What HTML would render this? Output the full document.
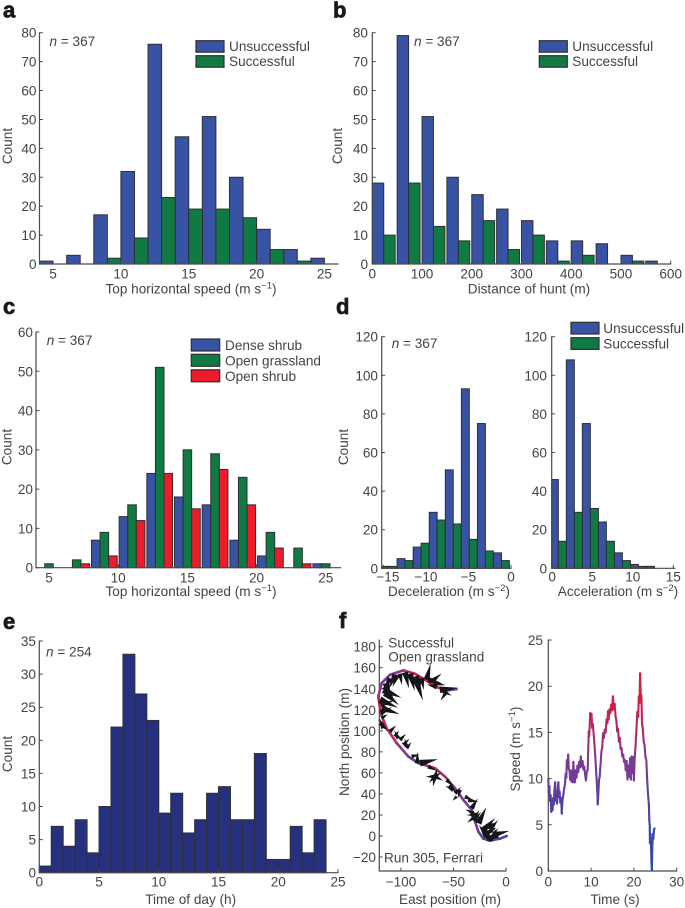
<!DOCTYPE html>
<html lang="en">
<head>
<meta charset="utf-8">
<title>Hunting statistics figure</title>
<style>
html,body{margin:0;padding:0;background:#fff;width:685px;height:908px;overflow:hidden}
svg{display:block;font-family:"Liberation Sans",sans-serif;font-size:13.6px;fill:#444}
.pl{font-weight:bold;font-size:22px;fill:#1a1a1a;stroke:#1a1a1a;stroke-width:.7}
.sup{font-size:9.5px}
</style>
</head>
<body>
<svg id="fig" xmlns="http://www.w3.org/2000/svg" width="685" height="908" viewBox="0 0 685 908">
<text class="pl" x="3" y="17.5">a</text>
<text class="pl" x="333" y="17.5">b</text>
<text class="pl" x="3" y="314">c</text>
<text class="pl" x="336" y="314">d</text>
<text class="pl" x="3" y="629">e</text>
<text class="pl" x="339" y="628">f</text>

<text x="49.5" y="46"><tspan font-style="italic">n</tspan> = 367</text>
<text x="414" y="46"><tspan font-style="italic">n</tspan> = 367</text>
<text x="46.7" y="345"><tspan font-style="italic">n</tspan> = 367</text>
<text x="391.7" y="348"><tspan font-style="italic">n</tspan> = 367</text>
<text x="46" y="656.7"><tspan font-style="italic">n</tspan> = 254</text>

<text x="191" y="293.5" text-anchor="middle">Top horizontal speed (m s<tspan class="sup" dy="-5">−1</tspan><tspan dy="5">)</tspan></text>
<text x="529" y="293.5" text-anchor="middle">Distance of hunt (m)</text>
<text x="191" y="596" text-anchor="middle">Top horizontal speed (m s<tspan class="sup" dy="-5">−1</tspan><tspan dy="5">)</tspan></text>
<text x="449" y="596" text-anchor="middle">Deceleration (m s<tspan class="sup" dy="-5">−2</tspan><tspan dy="5">)</tspan></text>
<text x="618" y="596" text-anchor="middle">Acceleration (m s<tspan class="sup" dy="-5">−2</tspan><tspan dy="5">)</tspan></text>
<text x="190.7" y="904" text-anchor="middle">Time of day (h)</text>
<text x="450" y="904" text-anchor="middle">East position (m)</text>
<text x="615" y="904" text-anchor="middle">Time (s)</text>

<text transform="translate(12,146) rotate(-90)" text-anchor="middle">Count</text>
<text transform="translate(342,146) rotate(-90)" text-anchor="middle">Count</text>
<text transform="translate(11.5,447) rotate(-90)" text-anchor="middle">Count</text>
<text transform="translate(348,447) rotate(-90)" text-anchor="middle">Count</text>
<text transform="translate(12,754) rotate(-90)" text-anchor="middle">Count</text>
<text transform="translate(349,742) rotate(-90)" text-anchor="middle">North position (m)</text>
<text transform="translate(520,749) rotate(-90)" text-anchor="middle">Speed (m s<tspan class="sup" dy="-5">−1</tspan><tspan dy="5">)</tspan></text>

<text x="388.3" y="647.3">Successful</text>
<text x="388.3" y="661.7">Open grassland</text>
<text x="384" y="862.7">Run 305, Ferrari</text>
</svg>
<script>
// Panel a
const aUnsuccessful = [1,3,17,32,76,44,51,30,12,5,2];
const aSuccessful = [0,0,2,9,23,19,19,16,5,1,0];
const aXTicks = [5,10,15,20,25];
const aYTicks = [0,10,20,30,40,50,60,70,80];
// Panel b
const bUnsuccessful = [28,79,51,30,24,19,15,8,8,7,3,1];
const bSuccessful = [10,28,13,8,15,5,10,1,3,0,1,0];
const bXTicks = [0,100,200,300,400,500,600];
const bYTicks = [0,10,20,30,40,50,60,70,80];
// Panel c
const cDenseShrub = [0,0,7,13,24,18,16,7,3,0,1];
const cOpenGrassland = [1,2,9,16,51,30,29,23,9,5,1];
const cOpenShrub = [0,1,3,12,24,15,25,16,5,1,0];
const cXTicks = [5,10,15,20,25];
const cYTicks = [0,10,20,30,40,50,60];
// Panel d
const dDecelUnsuccessful = [1,5,11,29,51,93,75,8];
const dDecelSuccessful = [1,4,13,25,23,15,9,4];
const dDecelXTicks = [-15,-10,-5,0];
const dAccelUnsuccessful = [46,108,75,24,8,2,1,0];
const dAccelSuccessful = [14,29,31,14,4,1,0,0];
const dAccelXTicks = [0,5,10,15];
const dYTicks = [0,20,40,60,80,100,120];
// Panel e
const eCounts = [1,7,4,8,3,10,22,33,27,23,9,12,6,8,12,13,8,8,18,2,2,7,3,8];
const eXTicks = [0,5,10,15,20,25];
const eYTicks = [0,5,10,15,20,25,30,35];
// Panel f: track
const trackEast = [0.6,-5.7,-15.2,-21.6,-26.3,-29.5,-32.7,-40.6,-48.6,-58.1,-67.6,-75.6,-83.5,-93,-104.1,-113.7,-119.4,-121.6,-118.4,-110.5,-97.8,-86.7,-77.1,-66,-56.5,-47];
const trackNorth = [0,-2.5,-4.4,-2.5,4.1,13.7,24.8,34.3,45.4,56.5,64.4,67,69.2,75.6,88.3,102.5,116.8,132.7,145.4,153.3,157.5,154.3,148.6,141.6,138.4,139.7];
const trackSpeed = [8,8,8,8,10,11,11,11,12,14,16,17,10,9,15,17,18,15,11,11,13,17,20,21,15,5];
const arrowEast = [-105.7,-101,-96.2,-91.4,-86.7,-81.9,-75.6,-70.8,-66,-61.3,-56.5,-62.9,-116.8,-115.2,-120,-118.4,-119.4,-118.4,-119.4,-116.8,-110.5,-105.7,-101,-97.8,-94.6,-89.8,-84.4,-81.9,-74,-67.6,-67.6,-67.6,-67.6,-67.6,-67.6,-56.5,-53.3,-50.2,-48.6,-47,-43.8,-35.9,-32.7,-31.1,-29.5,-27.9,-31.1,-26.3,-26.3,-21.6,-18.4,-18.4,-18.4,-15.2,-13.7,-12.1,-8.9,-15.2,-103.5,-110.5,-114.3,-115.2,-119.4,-80.3,-73.9,-69.2,-62.9,-102.6,-94.6,-39,-32.7,-31.1,-15.2,-16.8,-21.6];
const arrowNorth = [153.3,154.3,155.6,154.3,151.7,148.6,148.6,147,141.6,139,137.5,139.7,139,142.2,129.5,121.6,116.8,112.1,107.3,102.5,99.4,94.6,91.4,86.7,83.5,75.6,69.2,69.2,66,56.5,56.5,56.5,56.5,56.5,56.5,53.3,48.6,43.8,40.6,37.5,43.8,34.3,26.3,21.6,18.4,20,16.8,12.1,13.7,5.7,8.9,2.5,-0.6,-3.8,-3.8,1,-2.2,-4.4,153,150,145.4,135.9,124.8,150.2,148.6,145.4,139,92.9,85,37.5,21.6,15.2,5.7,-2.2,2.5];
const arrowDEast = [-4.8,1.6,3.2,3.8,6.3,-1.6,3.2,7.9,-7.9,7.9,-4.8,9.5,14.3,7.9,14.3,14.3,8.9,4.8,5.7,-3.2,4.8,3.2,4.8,4.8,3.8,6.3,0,14.3,6.3,-7.3,-4.8,4.8,6.3,-1.6,1.6,4.8,4.8,-6.3,4.8,-3.2,-1.6,7.9,4.8,-6.3,-6.3,-7.9,4.8,6.3,-6.3,9.5,7.9,7.9,-6.3,6.3,-7.9,12.7,-1.6,-3.2,-3.8,-4.8,3.8,11.1,10.5,1.6,11.1,9.5,14.3,-3.2,-1.6,6.3,7.9,6.3,6.3,7.9,9.5];
const arrowDNorth = [-11.1,-8.9,-12.7,-13.7,-19,-9.5,12.7,6.3,2.2,-4.8,-7.3,-0.6,-6.3,-12.7,-6.3,-4.8,4.8,3.2,-6.3,7.9,4.8,4.8,4.8,4.8,4.8,1.6,8.9,3.2,-3.2,0,-4.8,3.2,-3.2,-7.9,6.3,-4.8,-6.3,3.2,4.8,-3.2,-6.3,-1.6,7.9,3.2,-4.8,0,6.3,12.7,4.8,9.5,3.2,4.8,9.5,9.5,4.8,3.2,7.9,10.2,-9.5,-9.5,-14.3,-9.5,3.2,-9.5,-3.2,-1.6,1.6,6.3,6.3,-3.2,-4.8,6.3,7.9,1,1.6];
const fXTicks = [-100,-50,0];
const fYTicks = [-20,0,20,40,60,80,100,120,140,160,180];
// Panel f: speed against time
const speedTime = [0,0.1,0.25,0.4,0.55,0.7,0.85,1,1.15,1.3,1.45,1.6,1.75,1.9,2.05,2.2,2.35,2.5,2.65,2.8,3,3.15,3.3,3.5,3.7,3.9,4.05,4.2,4.35,4.5,4.65,4.8,4.95,5.1,5.25,5.4,5.55,5.7,5.85,6,6.2,6.4,6.6,6.8,7,7.2,7.4,7.6,7.8,8,8.2,8.4,8.6,8.8,9,9.2,9.35,9.45,9.55,9.7,9.8,9.95,10.1,10.25,10.4,10.6,10.8,11,11.15,11.3,11.45,11.55,11.7,11.85,12,12.2,12.4,12.6,12.8,13,13.2,13.4,13.6,13.8,13.95,14.1,14.3,14.5,14.7,14.9,15.1,15.3,15.5,15.7,15.9,16.1,16.3,16.5,16.7,16.9,17.1,17.3,17.5,17.7,17.9,18.1,18.3,18.5,18.7,18.9,19.1,19.3,19.5,19.7,19.9,20,20.2,20.4,20.6,20.8,21,21.15,21.3,21.45,21.6,21.75,21.9,22.05,22.3,22.5,22.7,22.9,23.1,23.3,23.5,23.6,23.7,23.75,23.85,24,24.1,24.2,24.3,24.45,24.55,24.7,24.85];
const speedValues = [10,8.5,9.2,7.6,8.2,6.4,7.8,6.6,7.9,7.2,8.9,9.6,7.6,8.2,7.3,8.8,9.6,8,8.6,7.4,7.9,6.2,7.6,8.2,8.9,9.4,10.5,10.1,12,11.2,12.6,11,10.9,9.9,10.8,9.7,10.9,9.6,11.8,10.4,9.6,10.9,10.1,11.4,10.7,11.8,11.2,12.4,11.3,11.9,11,11.3,10.4,9.8,10.8,10.9,13.5,15.1,14.6,15.9,17.1,16.4,17,15.5,15.9,14.8,13.6,12.2,11,9.8,8.6,7.2,8.4,9.9,10.2,11.5,12.9,13.4,14.9,14.4,15.3,15,16.4,16,17.3,16.4,17.5,17.1,18,17.4,18.9,17.5,18.1,16.8,16.3,15.1,15.4,14,14.4,13.2,13.3,12.4,12.6,11.8,12,10.9,11.9,9.9,11.4,10.2,12.2,9.9,12.4,10.6,12.3,9.8,12.4,13.6,15.4,17.2,16.7,18.9,18.2,21.4,18.9,19,15.9,15.5,14,13.6,12.3,12,9.9,8.3,7.2,5.4,5,3,4,2.8,1,0.1,2.6,4,3.5,4.5,4.6];
const speedXTicks = [0,10,20,30];
const speedYTicks = [0,5,10,15,20,25];

const BLUE = '#3953a4', GREEN = '#0f7a42', RED = '#ed1c2a', NAVY = '#25307f', EDGE = '#2f2f35', AXIS = '#4a4a4a';
const NS = 'http://www.w3.org/2000/svg';
const svg = document.getElementById('fig');

function node(tag, name, parent) {
  const el = document.createElementNS(NS, tag);
  
  
  (parent || svg).appendChild(el);
  return el;
}
function rect(name, parent, x, y, w, h, fill, sw) {
  const r = node('rect', name, parent);
  r.setAttribute('x', x); r.setAttribute('y', y);
  r.setAttribute('width', Math.max(w, 0)); r.setAttribute('height', Math.max(h, 0));
  r.setAttribute('fill', fill); r.setAttribute('stroke', EDGE);
  r.setAttribute('stroke-width', sw || 1);
  return r;
}
function line(name, parent, x1, y1, x2, y2, color, sw) {
  const l = node('line', name, parent);
  l.setAttribute('x1', x1); l.setAttribute('y1', y1); l.setAttribute('x2', x2); l.setAttribute('y2', y2);
  l.setAttribute('stroke', color); l.setAttribute('stroke-width', sw);
  l.setAttribute('stroke-linecap', 'round');
  return l;
}
function label(name, parent, x, y, str, anchor) {
  const t = node('text', name, parent);
  t.setAttribute('x', x); t.setAttribute('y', y);
  t.setAttribute('text-anchor', anchor);
  t.textContent = str;
  return t;
}
function fmt(v) { return v < 0 ? '\u2212' + Math.abs(v) : String(v); }
function linScale(d0, r0, d1, r1) { return v => r0 + (v - d0) * (r1 - r0) / (d1 - d0); }

function axes(id, p, xs, ys) {
  const g = node('g', id + '-axes');
  line(id + '-x-axis', g, p.left, p.bottom, p.right, p.bottom, AXIS, 1.2);
  line(id + '-y-axis', g, p.left, p.bottom, p.left, p.top, AXIS, 1.2);
  p.xTicks.forEach((v, i) => {
    line(id + '-x-tick', g, xs(v), p.bottom, xs(v), p.bottom - 3, AXIS, 1);
    label(id + '-x-tick-label', g, xs(v) + (i === 0 ? (p.firstShift || 0) : (p.labelShift || 0)), p.xBase, fmt(v), 'middle');
  });
  p.yTicks.forEach(v => {
    line(id + '-y-tick', g, p.left, ys(v), p.left + 3, ys(v), AXIS, 1);
    label(id + '-y-tick-label', g, p.yEnd, ys(v) + 5, fmt(v), 'end');
  });
}
function legend(id, x, w, tops, h, textX, entries) {
  entries.forEach((e, i) => {
    const g = node('g', id + '-legend-entry');
    rect(id + '-legend-swatch', g, x, tops[i], w, h, e[1], 1.2);
    label(id + '-legend-label', g, textX, tops[i] + h - 1, e[0], 'start');
  });
}
function barSeries(id, name, values, xs, ys, start, step, width, fill, clipLeft) {
  const g = node('g', id + '-' + name + '-bars');
  values.forEach((v, i) => {
    if (v <= 0) return;
    let a = xs(start + step * i);
    const b = xs(start + step * i + width);
    if (clipLeft !== undefined) a = Math.max(a, clipLeft);
    rect(id + '-bar', g, a, ys(v), b - a, ys(0) - ys(v), fill);
  });
}

// Panel a
(function () {
  const p = {left: 39.5, right: 338, top: 32.7, bottom: 264, xTicks: aXTicks, yTicks: aYTicks, xBase: 278.5, yEnd: 36.5};
  const xs = linScale(4, p.left, 26, p.right), ys = linScale(0, p.bottom, 80, p.top);
  barSeries('a', 'unsuccessful', aUnsuccessful, xs, ys, 4, 2, 1, BLUE);
  barSeries('a', 'successful', aSuccessful, xs, ys, 5, 2, 1, GREEN);
  axes('a', p, xs, ys);
  legend('a', 196, 28, [40.7, 55.7], 11.5, 229, [['Unsuccessful', BLUE], ['Successful', GREEN]]);
})();
// Panel b
(function () {
  const p = {left: 372.3, right: 670.7, top: 32.7, bottom: 264, xTicks: bXTicks, yTicks: bYTicks, xBase: 278.5, yEnd: 368};
  const xs = linScale(0, p.left, 600, p.right), ys = linScale(0, p.bottom, 80, p.top);
  barSeries('b', 'unsuccessful', bUnsuccessful, xs, ys, 0, 50, 23, BLUE);
  barSeries('b', 'successful', bSuccessful, xs, ys, 23, 50, 23, GREEN);
  axes('b', p, xs, ys);
  legend('b', 539.3, 28, [40.7, 55.7], 11.5, 572.3, [['Unsuccessful', BLUE], ['Successful', GREEN]]);
})();
// Panel c
(function () {
  const p = {left: 36, right: 340.7, top: 332, bottom: 567.7, xTicks: cXTicks, yTicks: cYTicks, xBase: 582.7, yEnd: 33};
  const xs = linScale(4.06, p.left, 26.08, p.right), ys = linScale(0, p.bottom, 60, p.top);
  barSeries('c', 'dense-shrub', cDenseShrub, xs, ys, 4.07, 2, 0.62, BLUE);
  barSeries('c', 'open-grassland', cOpenGrassland, xs, ys, 4.69, 2, 0.62, GREEN);
  barSeries('c', 'open-shrub', cOpenShrub, xs, ys, 5.31, 2, 0.62, RED);
  axes('c', p, xs, ys);
  legend('c', 191.3, 28.4, [339, 354.3, 369.8], 12, 225, [['Dense shrub', BLUE], ['Open grassland', GREEN], ['Open shrub', RED]]);
})();
// Panel d left
(function () {
  const p = {left: 381.7, right: 511, top: 336.7, bottom: 568.3, xTicks: dDecelXTicks, yTicks: dYTicks, xBase: 581.5, yEnd: 378, firstShift: 4.5, labelShift: 0};
  const xs = linScale(-15.2, p.left, 0, 511), ys = linScale(0, p.bottom, 120, p.top);
  barSeries('d-deceleration', 'unsuccessful', dDecelUnsuccessful, xs, ys, -15.28, 1.89, 0.93, BLUE, p.left);
  barSeries('d-deceleration', 'successful', dDecelSuccessful, xs, ys, -14.35, 1.89, 0.93, GREEN);
  axes('d-deceleration', p, xs, ys);
})();
// Panel d right
(function () {
  const p = {left: 551.7, right: 675, top: 336.7, bottom: 568.3, xTicks: dAccelXTicks, yTicks: dYTicks, xBase: 581.5, yEnd: 547, firstShift: 0.5};
  const xs = linScale(0, p.left, 15, 673.3), ys = linScale(0, p.bottom, 120, p.top);
  barSeries('d-acceleration', 'unsuccessful', dAccelUnsuccessful, xs, ys, -0.17, 1.975, 0.99, BLUE, p.left);
  barSeries('d-acceleration', 'successful', dAccelSuccessful, xs, ys, 0.82, 1.975, 0.99, GREEN);
  axes('d-acceleration', p, xs, ys);
  legend('d', 571, 28, [322.3, 337.7], 11.7, 603.3, [['Unsuccessful', BLUE], ['Successful', GREEN]]);
})();
// Panel e
(function () {
  const p = {left: 39.3, right: 338, top: 641, bottom: 872.7, xTicks: eXTicks, yTicks: eYTicks, xBase: 886.7, yEnd: 36};
  const xs = linScale(0, p.left, 25, p.right), ys = linScale(0, p.bottom, 35, p.top);
  barSeries('e', 'count', eCounts, xs, ys, 0, 1, 1, NAVY);
  axes('e', p, xs, ys);
})();

function speedColor(s) {
  const t = Math.min(1, Math.max(0, (s - 4) / 15));
  const stops = [[51,72,168],[122,58,150],[216,30,60]];
  const k = t < 0.5 ? 0 : 1, u = t < 0.5 ? t * 2 : (t - 0.5) * 2;
  const c = [0,1,2].map(j => Math.round(stops[k][j] + (stops[k + 1][j] - stops[k][j]) * u));
  return 'rgb(' + c.join(',') + ')';
}
// Panel f track
(function () {
  const p = {left: 379.3, right: 506, top: 640, bottom: 871, xTicks: fXTicks, yTicks: fYTicks, xBase: 886.7, yEnd: 376};
  const xs = linScale(0, 506, -100, 401), ys = linScale(0, 836, 180, 646.7);
  axes('f-track', p, xs, ys);
  const tg = node('g', 'track-path');
  tg.setAttribute('fill', 'none');
  for (let i = 0; i < trackEast.length - 1; i++) {
    line('track-segment', tg, xs(trackEast[i]), ys(trackNorth[i]), xs(trackEast[i + 1]), ys(trackNorth[i + 1]), speedColor((trackSpeed[i] + trackSpeed[i + 1]) / 2), 2.6);
  }
  const ag = node('g', 'track-force-arrows');
  const arrowGain = 1.2;
  arrowEast.forEach((e, i) => {
    const bx = xs(e), by = ys(arrowNorth[i]);
    const tx = xs(e + arrowDEast[i] * arrowGain), ty = ys(arrowNorth[i] + arrowDNorth[i] * arrowGain);
    const dx = tx - bx, dy = ty - by, len = Math.hypot(dx, dy) || 1;
    const hw = 1 + len * 0.13;
    const nx = -dy / len * hw, ny = dx / len * hw;
    const w = node('polygon', 'force-arrow', ag);
    w.setAttribute('points', [(bx + nx) + ',' + (by + ny), (bx - nx) + ',' + (by - ny), tx + ',' + ty].join(' '));
    w.setAttribute('fill', '#15151a');
  });
})();
// Panel f speed
(function () {
  const p = {left: 548.3, right: 676.7, top: 640, bottom: 871, xTicks: speedXTicks, yTicks: speedYTicks, xBase: 886.7, yEnd: 543};
  const xs = linScale(0, p.left, 30, p.right), ys = linScale(0, p.bottom, 25, p.top);
  axes('f-speed', p, xs, ys);
  const g = node('g', 'speed-trace');
  for (let i = 0; i < speedTime.length - 1; i++) {
    line('speed-segment', g, xs(speedTime[i]), ys(speedValues[i]), xs(speedTime[i + 1]), ys(speedValues[i + 1]), speedColor((speedValues[i] + speedValues[i + 1]) / 2), 2.1);
  }
})();
</script>
</body>
</html>
